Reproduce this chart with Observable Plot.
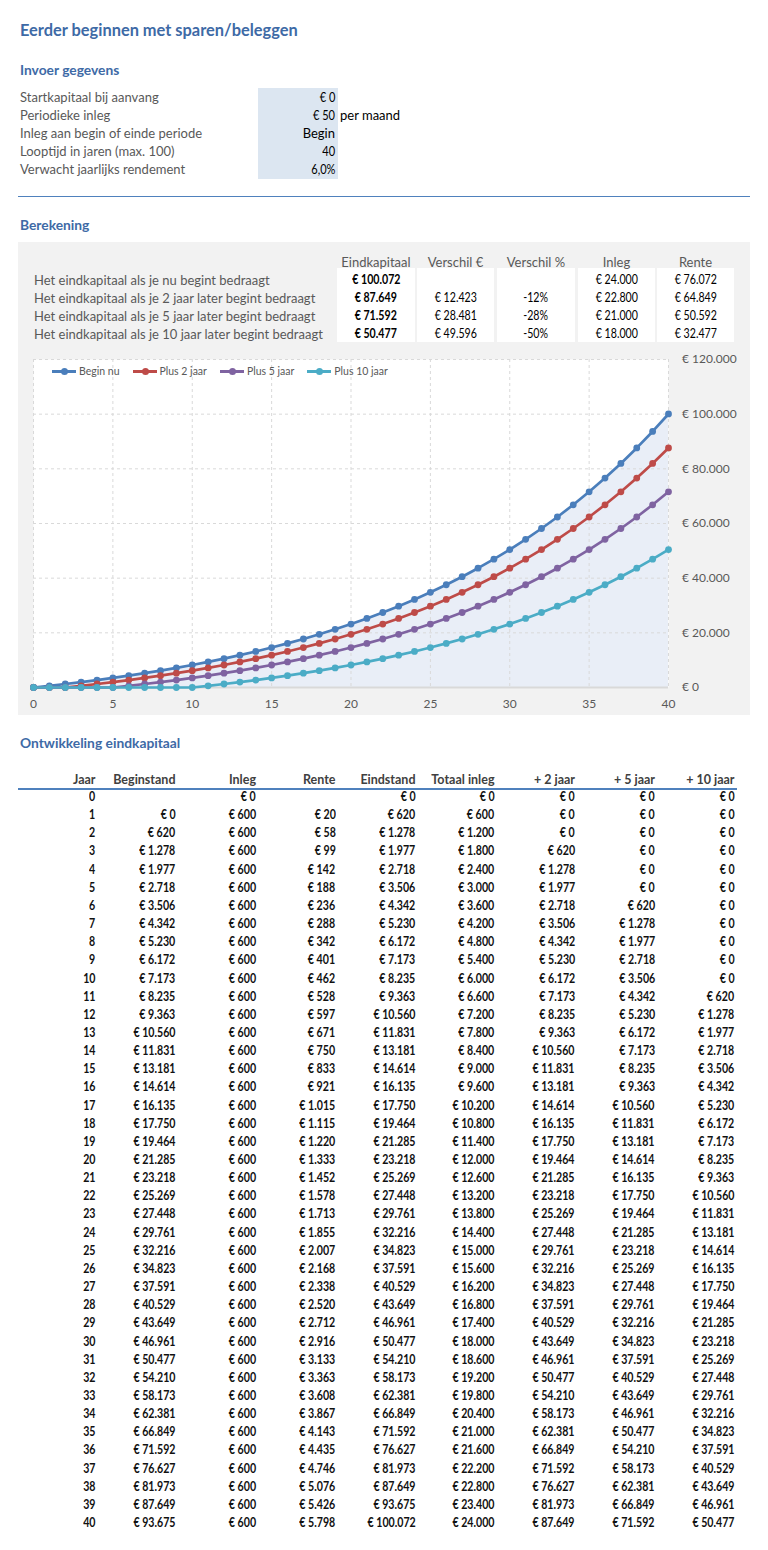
<!DOCTYPE html>
<html>
<head>
<meta charset="utf-8">
<script src="https://cdn.jsdelivr.net/npm/d3@7"></script>
<script src="https://cdn.jsdelivr.net/npm/@observablehq/plot@0.6"></script>
<style>
  html, body { margin: 0; padding: 0; background: #ffffff; }
  body { font-family: Lato, "Open Sans", "DejaVu Sans", sans-serif; }
  #page { position: relative; width: 768px; height: 1550px; overflow: hidden; }
  .t { position: absolute; white-space: nowrap; height: 16px; line-height: 16px; }
  .r { text-align: right; }
  .c { text-align: center; }
  .t span.n { display: inline-block; transform: scaleX(0.85); line-height: 16px; height: 16px; vertical-align: top; }
  .r span.n { transform-origin: right center; }
  .c span.n { transform-origin: center center; }
  .box { position: absolute; }
  .legend { position: absolute; display: flex; align-items: center; font-size: 10.5px; color: #595959; }
  .legend .item { display: flex; align-items: center; margin-right: 13px; }
  .legend .sw { position: relative; width: 24px; height: 3px; margin-right: 3px; }
  .legend .sw i { position: absolute; left: 9px; top: -2px; width: 7px; height: 7px; border-radius: 50%; }
</style>
</head>
<body>
<div id="page"></div>
<script>
// ---------------- DATA ----------------
const pageTitle = "Eerder beginnen met sparen/beleggen";
const sectionTitles = ["Invoer gegevens", "Berekening", "Ontwikkeling eindkapitaal"];

const inputLabels = [
  "Startkapitaal bij aanvang",
  "Periodieke inleg",
  "Inleg aan begin of einde periode",
  "Looptijd in jaren (max. 100)",
  "Verwacht jaarlijks rendement"
];
const inputValues = ["€ 0", "€ 50", "Begin", "40", "6,0%"];
const inputUnits = ["", "per maand", "", "", ""];

const berekeningHeaders = ["Eindkapitaal", "Verschil €", "Verschil %", "Inleg", "Rente"];
const berekeningLabels = [
  "Het eindkapitaal als je nu begint bedraagt",
  "Het eindkapitaal als je 2 jaar later begint bedraagt",
  "Het eindkapitaal als je 5 jaar later begint bedraagt",
  "Het eindkapitaal als je 10 jaar later begint bedraagt"
];
const eindkapitaal = [100072, 87649, 71592, 50477];
const verschilEuro = [null, 12423, 28481, 49596];
const verschilPct = [null, -12, -28, -50];
const inlegTotaal = [24000, 22800, 21000, 18000];
const renteTotaal = [76072, 64849, 50592, 32477];

const seriesNames = ["Begin nu", "Plus 2 jaar", "Plus 5 jaar", "Plus 10 jaar"];
const seriesColors = ["#4A7EBB", "#BE4B48", "#7F63A1", "#4BACC6"];

const jaren = [0,1,2,3,4,5,6,7,8,9,10,11,12,13,14,15,16,17,18,19,20,21,22,23,24,25,26,27,28,29,30,31,32,33,34,35,36,37,38,39,40];
const beginstand = [null,0,620,1278,1977,2718,3506,4342,5230,6172,7173,8235,9363,10560,11831,13181,14614,16135,17750,19464,21285,23218,25269,27448,29761,32216,34823,37591,40529,43649,46961,50477,54210,58173,62381,66849,71592,76627,81973,87649,93675];
const inleg = [0,600,600,600,600,600,600,600,600,600,600,600,600,600,600,600,600,600,600,600,600,600,600,600,600,600,600,600,600,600,600,600,600,600,600,600,600,600,600,600,600];
const rente = [null,20,58,99,142,188,236,288,342,401,462,528,597,671,750,833,921,1015,1115,1220,1333,1452,1578,1713,1855,2007,2168,2338,2520,2712,2916,3133,3363,3608,3867,4143,4435,4746,5076,5426,5798];
const eindstand = [0,620,1278,1977,2718,3506,4342,5230,6172,7173,8235,9363,10560,11831,13181,14614,16135,17750,19464,21285,23218,25269,27448,29761,32216,34823,37591,40529,43649,46961,50477,54210,58173,62381,66849,71592,76627,81973,87649,93675,100072];
const totaalInleg = [0,600,1200,1800,2400,3000,3600,4200,4800,5400,6000,6600,7200,7800,8400,9000,9600,10200,10800,11400,12000,12600,13200,13800,14400,15000,15600,16200,16800,17400,18000,18600,19200,19800,20400,21000,21600,22200,22800,23400,24000];
const plus2 = [0,0,0,620,1278,1977,2718,3506,4342,5230,6172,7173,8235,9363,10560,11831,13181,14614,16135,17750,19464,21285,23218,25269,27448,29761,32216,34823,37591,40529,43649,46961,50477,54210,58173,62381,66849,71592,76627,81973,87649];
const plus5 = [0,0,0,0,0,0,620,1278,1977,2718,3506,4342,5230,6172,7173,8235,9363,10560,11831,13181,14614,16135,17750,19464,21285,23218,25269,27448,29761,32216,34823,37591,40529,43649,46961,50477,54210,58173,62381,66849,71592];
const plus10 = [0,0,0,0,0,0,0,0,0,0,0,620,1278,1977,2718,3506,4342,5230,6172,7173,8235,9363,10560,11831,13181,14614,16135,17750,19464,21285,23218,25269,27448,29761,32216,34823,37591,40529,43649,46961,50477];

const tableHeaders = ["Jaar", "Beginstand", "Inleg", "Rente", "Eindstand", "Totaal inleg", "+ 2 jaar", "+ 5 jaar", "+ 10 jaar"];

// ---------------- HELPERS ----------------
const locale = d3.formatLocale({decimal: ",", thousands: ".", grouping: [3], currency: ["€ ", ""]});
const eur = v => (v == null ? "" : locale.format("$,.0f")(v));
const pct = v => (v == null ? "" : String(v) + "%");

const page = document.getElementById("page");
function box(x, y, w, h, color) {
  const d = document.createElement("div");
  d.className = "box";
  Object.assign(d.style, {left: x + "px", top: y + "px", width: w + "px", height: h + "px", background: color});
  page.appendChild(d);
  return d;
}
function text(s, x, y, o = {}) {
  const d = document.createElement("div");
  d.className = "t" + (o.align === "right" ? " r" : o.align === "center" ? " c" : "");
  const w = o.width || 320;
  let left = x;
  if (o.align === "right") left = x - w;
  if (o.align === "center") left = x - w / 2;
  Object.assign(d.style, {
    left: left + "px", top: (y - 8) + "px", width: w + "px",
    fontSize: (o.size || 13) + "px", fontWeight: o.bold ? "700" : "400",
    color: o.color || "#000"
  });
  if (o.num) {
    const sp = document.createElement("span");
    sp.className = "n";
    sp.textContent = s;
    d.appendChild(sp);
  } else {
    d.textContent = s;
  }
  page.appendChild(d);
  return d;
}

const blue = "#3E6AA6";
const gray = "#595959";

// ---------------- TITLE + INPUT ----------------
text(pageTitle, 20, 30, {size: 16.4, bold: true, color: blue, width: 500});
text(sectionTitles[0], 20, 70, {size: 13.8, bold: true, color: blue});

box(258, 87.5, 80, 91, "#DCE6F1");
inputLabels.forEach((l, i) => {
  const y = 97 + i * 18;
  text(l, 20, y, {color: gray});
  text(inputValues[i], 335, y, {align: "right", width: 80, num: i !== 2});
  if (inputUnits[i]) text(inputUnits[i], 340, y);
});

box(18, 195.5, 732, 1, "#4F81BD");

// ---------------- BEREKENING ----------------
text(sectionTitles[1], 20, 225, {size: 13.8, bold: true, color: blue});
box(18, 241.5, 732, 473.5, "#F2F2F2");

const colLeft = [337, 417, 497, 578, 657];
const colW = [78, 77, 78, 77, 77];
colLeft.forEach((x, j) => box(x, 268, colW[j], 74, "#FFFFFF"));
berekeningHeaders.forEach((h, j) => text(h, colLeft[j] + colW[j] / 2, 262, {align: "center", color: gray, width: 100}));
const berekeningCols = [eindkapitaal.map(eur), verschilEuro.map(eur), verschilPct.map(pct), inlegTotaal.map(eur), renteTotaal.map(eur)];
berekeningLabels.forEach((l, i) => {
  const y = 280 + i * 18;
  text(l, 34, y, {color: gray});
  berekeningCols.forEach((col, j) => text(col[i], colLeft[j] + colW[j] / 2, y, {align: "center", width: 100, bold: j === 0, num: true, size: 12.5}));
});

// ---------------- CHART ----------------
const series = [eindstand, plus2, plus5, plus10];
const long = [];
series.forEach((vals, s) => vals.forEach((v, i) => long.push({jaar: jaren[i], waarde: v, serie: seriesNames[s]})));
const beginNu = jaren.map((j, i) => ({jaar: j, waarde: eindstand[i]}));

const gridStyle = {stroke: "#D9D9D9", strokeOpacity: 1, strokeDasharray: "3,3", strokeWidth: 1};
const seriesMarks = seriesNames.flatMap(name => {
  const d = long.filter(r => r.serie === name);
  return [
    Plot.line(d, {x: "jaar", y: "waarde", stroke: "serie", strokeWidth: 2.7}),
    Plot.dot(d, {x: "jaar", y: "waarde", fill: "serie", r: 3.4})
  ];
});

const chart = Plot.plot({
  width: 732,
  height: 370,
  marginLeft: 15,
  marginRight: 82,
  marginTop: 14,
  marginBottom: 28,
  style: {background: "transparent", fontFamily: "Lato, 'Open Sans', sans-serif", fontSize: "12px", color: gray, overflow: "visible"},
  x: {domain: [0, 40], label: null},
  y: {domain: [0, 120000], label: null},
  color: {domain: seriesNames, range: seriesColors},
  marks: [
    Plot.frame({fill: "white", stroke: "none"}),
    Plot.areaY(beginNu, {x: "jaar", y: "waarde", fill: "#E9EEF7"}),
    Plot.gridX({ticks: 8, ...gridStyle}),
    Plot.gridY({ticks: 6, ...gridStyle}),
    Plot.ruleY([0], {stroke: "#D9D9D9", strokeWidth: 2}),
    Plot.axisX({ticks: 8, tickSize: 0, tickPadding: 12, fill: gray, label: null}),
    Plot.axisY({anchor: "right", ticks: 6, tickSize: 0, tickPadding: 13.5, tickFormat: eur, fill: gray, label: null}),
    ...seriesMarks
  ]
});
chart.style.position = "absolute";
chart.style.left = "18px";
chart.style.top = "345px";
page.appendChild(chart);

// legend (HTML, inside plot area)
const legend = document.createElement("div");
legend.className = "legend";
Object.assign(legend.style, {left: "52px", top: "364px", height: "14px"});
seriesNames.forEach((name, i) => {
  const it = document.createElement("div");
  it.className = "item";
  const sw = document.createElement("div");
  sw.className = "sw";
  sw.style.background = seriesColors[i];
  const dot = document.createElement("i");
  dot.style.background = seriesColors[i];
  sw.appendChild(dot);
  const lab = document.createElement("span");
  lab.textContent = name;
  it.appendChild(sw);
  it.appendChild(lab);
  legend.appendChild(it);
});
page.appendChild(legend);

// ---------------- ONTWIKKELING TABLE ----------------
text(sectionTitles[2], 20, 743, {size: 13.8, bold: true, color: blue});
const tableRight = [95.5, 175.5, 256, 335.5, 415.5, 494.5, 575, 655, 734.5];
tableHeaders.forEach((h, j) => text(h, tableRight[j], 780, {align: "right", width: 90, bold: true, color: "#404040", size: 12.5}));
box(18, 788, 719, 1.5, "#4F81BD");

const tableCols = [
  jaren.map(String),
  beginstand.map(eur),
  inleg.map(eur),
  rente.map(eur),
  eindstand.map(eur),
  totaalInleg.map(eur),
  plus2.map(eur),
  plus5.map(eur),
  plus10.map(eur)
];
jaren.forEach((jr, i) => {
  const y = 797 + i * 18.15;
  tableCols.forEach((col, j) => text(col[i], tableRight[j], y, {align: "right", width: 90, bold: true, color: "#111", num: true, size: 12.5}));
});
</script>
</body>
</html>
